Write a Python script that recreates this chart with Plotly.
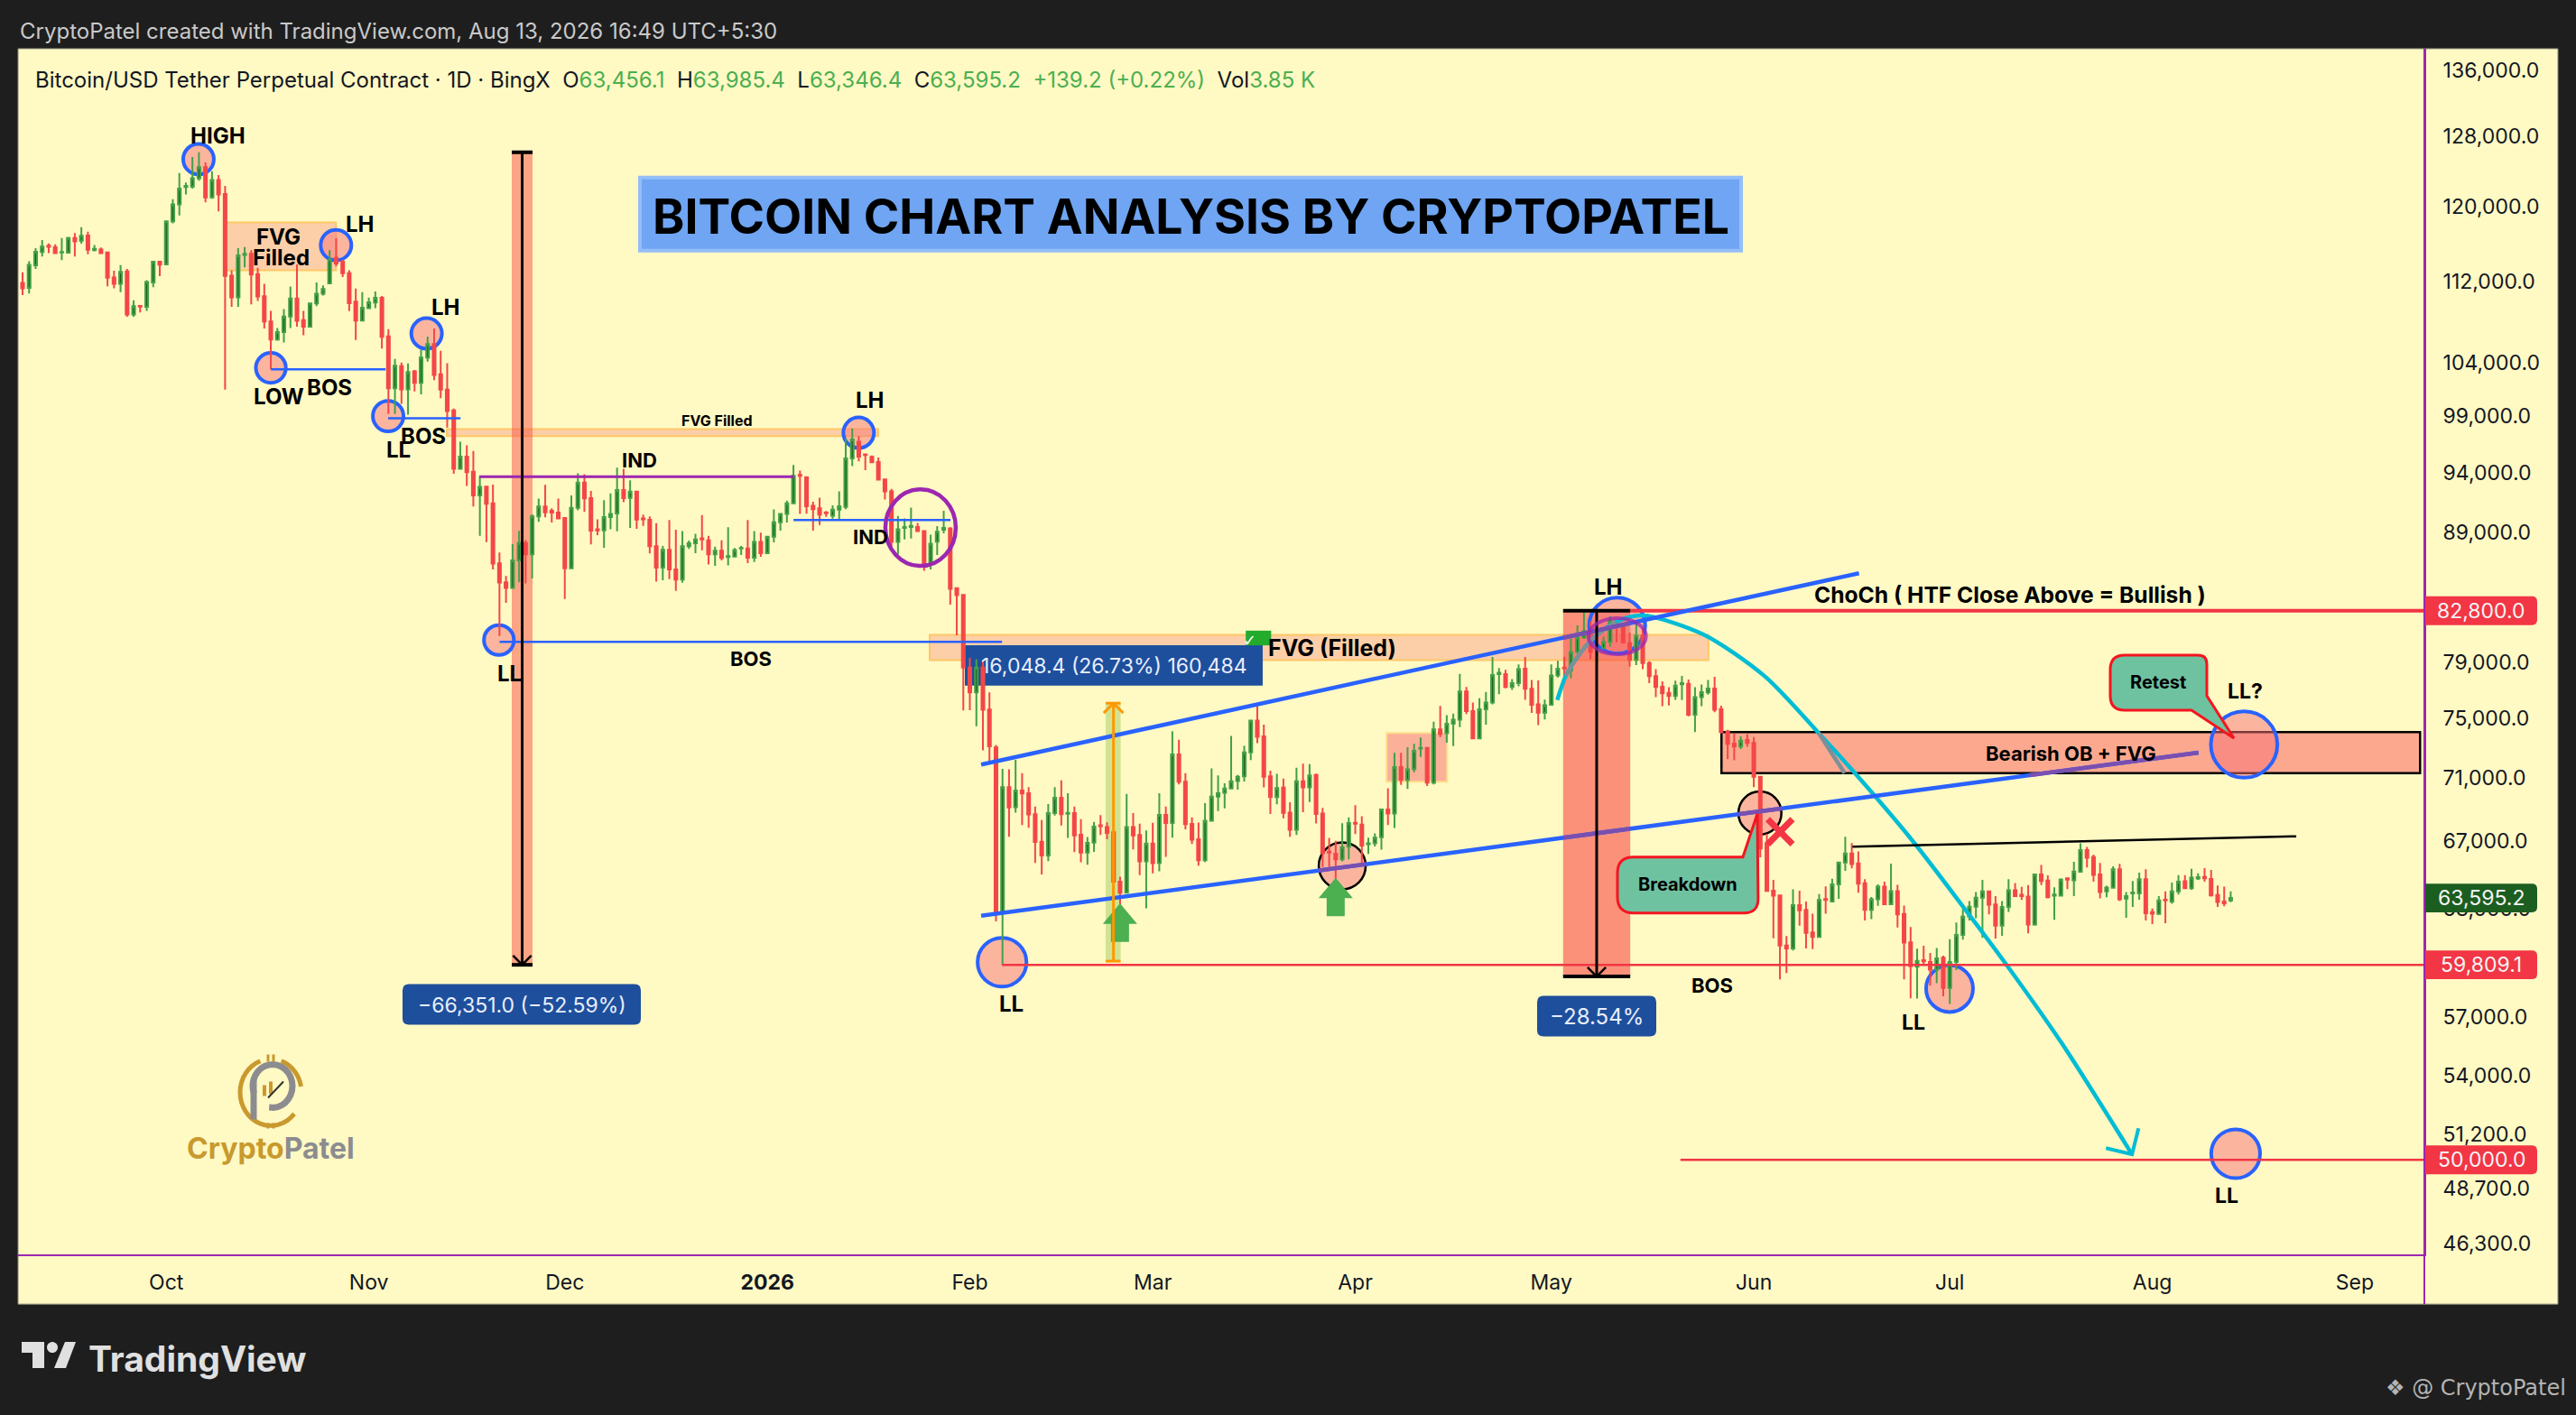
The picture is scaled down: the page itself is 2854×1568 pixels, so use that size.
import math
from datetime import datetime, timedelta

import plotly.graph_objects as go

START = datetime(2025, 9, 9)

OPEN = [111900,111400,113720,115130,115800,115620,115080,115040,116600,116310,
        116880,115320,115390,115070,112460,111800,113080,108700,109560,109470,
        111950,114100,113820,118400,120270,122200,122250,123200,124460,121050,
        123000,121420,112650,110420,114800,114920,112800,110540,108010,106230,
        106950,108490,110300,108130,107480,109810,110790,111860,114500,114100,
        112900,110000,108100,109340,109900,110380,106530,101570,103650,101470,
        103170,102090,104470,105780,102880,101450,99530,94340,95400,94080,
        92050,92800,91390,86490,84990,84560,86710,88120,87200,90290,
        91120,90770,90620,90170,86090,91000,93150,91830,89240,89150,
        90230,90530,92520,91840,92370,90120,90010,87850,86140,87570,
        86000,85200,87860,88100,88490,88330,87200,87490,86990,87030,
        87670,87670,86940,88210,87300,88620,89810,90500,91390,93810,
        93600,91170,90970,90610,90360,90860,91090,95240,96710,95600,
        95380,94920,93420,92400,88200,89350,89420,89420,89080,86530,
        88220,89200,89300,84530,84020,78590,76810,78590,75620,73030,
        62750,70420,69130,70190,70020,68690,66970,66130,68750,69730,
        68710,68750,67400,66310,66920,67990,67880,67550,64550,63900,
        67880,67380,65770,66860,65680,68640,68130,72560,70760,68080,
        67120,65840,68270,69810,70050,70320,70810,71110,72700,74860,
        73770,71110,69770,70380,68790,67710,70790,70400,71200,68720,
        66360,66240,65900,66670,68150,68030,66810,66870,67240,68980,
        68730,71720,70880,71590,72950,73000,70700,74250,73990,74640,
        74920,76880,75510,73640,75630,76110,78120,78120,77200,77470,
        78510,77070,75970,75390,75950,78020,78590,78380,79720,80780,
        81280,79900,80000,80470,82080,81560,80360,79150,80930,78920,
        77970,77220,76780,76560,77400,77420,75250,76490,76820,77090,
        75640,74110,73290,73090,73530,73330,71090,66880,64030,63750,
        60880,60710,63180,62910,61610,61360,63530,63390,64390,65700,
        66250,65650,64460,62900,63520,64260,63230,64000,62670,61060,
        59700,60070,59960,59540,60200,58550,59960,61470,62510,63090,
        63610,63980,63220,62000,63080,64050,63780,63680,62070,64980,
        64620,63730,63730,64760,64640,65150,66460,66030,64980,63980,
        64200,65290,63560,63870,63860,64700,62780,62670,63500,63390,
        63980,64580,64170,64740,64840,64720,63770,63390,63456.1]

HIGH = [113000,114150,115530,116400,116030,115930,116620,116740,117150,117780,
        117300,115860,115600,115130,113150,113740,113350,110120,109590,112170,
        114190,114190,118440,120850,123780,122710,125620,126160,125000,123980,
        123550,122320,113200,115530,115650,115300,113460,111800,109060,107360,
        109230,111520,113820,109060,109810,111950,111650,115300,116580,114300,
        113200,111330,110960,110410,111020,110560,107240,104350,104010,103910,
        103290,105250,106520,107300,105130,103950,99700,96700,96380,95880,
        93700,92850,92980,87350,85490,88030,89100,88360,90470,91780,
        92950,90970,91780,90170,92050,93950,93870,92430,90060,91650,
        92220,94430,94340,93330,92370,90440,90300,89730,87880,90000,
        89190,89090,88320,88860,90400,88700,87830,88330,89400,87720,
        87880,90000,89090,88950,88620,90870,90520,91620,94670,94180,
        93680,91520,91870,90740,91220,92400,97000,97900,97200,95650,
        95500,95310,93420,92600,90330,90130,91030,89750,89080,88800,
        89500,90770,89400,84600,84020,79300,79200,79070,76810,73200,
        71600,71570,72200,71330,70420,69170,68310,69330,70420,70850,
        70020,69170,68370,67260,68200,68630,68170,67550,64850,69980,
        68750,68090,67660,68150,70020,69170,74120,73550,71330,68480,
        68160,69390,71640,71180,70660,73800,71200,73130,74900,75850,
        74580,71490,71280,70970,69440,71680,71950,71920,71300,69080,
        67200,67030,68110,68490,69260,68560,67220,67480,68980,70340,
        72670,72670,73040,73270,73700,73000,74780,75870,75230,75330,
        78130,77200,76100,76400,76850,79350,78560,78420,77760,78810,
        79350,77700,77670,76310,78820,79080,79380,80730,81690,82700,
        82000,80260,80860,82390,82150,81730,81150,81860,81500,79050,
        78470,77600,77180,77650,77990,77730,77180,77370,77700,77930,
        75880,74220,73970,73770,73920,73730,71090,67450,64670,63750,
        61410,64100,64030,63390,62680,63830,64280,64730,65740,67280,
        66880,66380,64710,63650,64400,64550,65630,64370,63160,61920,
        60700,60870,60470,60740,60320,61230,62180,62940,63420,63950,
        64670,63980,63700,63420,64700,64480,64250,64350,65010,65550,
        64930,64220,64760,64800,65750,66870,66650,66180,65680,64320,
        65470,65620,63950,64600,65090,65290,62980,63700,63980,64500,
        64940,64940,65330,65060,65370,65250,64330,64260,63985.4]

LOW = [110660,110820,113350,114650,115010,115010,114270,115010,114650,116000,
       114890,115200,115010,111560,111350,110960,108470,108470,108910,109060,
       111460,112590,113820,118200,119060,121380,122020,122900,120480,120880,
       119490,101450,109470,109470,113510,109720,110060,107300,103350,106120,
       105940,107360,107480,106650,107480,109530,110600,111800,113600,112500,
       109030,106180,108100,109280,109330,105350,99200,99200,100130,99150,
       101290,101000,104080,102340,100650,97970,93900,94340,92850,91120,
       88700,88190,86010,80900,83400,84560,85000,84900,85300,89850,
       90220,89800,90120,83700,86090,90800,90670,88000,88760,87730,
       89230,89070,91480,89340,89270,89520,87280,85050,85150,85240,
       84320,84950,87640,87290,87530,86400,86280,86720,86320,87030,
       87150,86510,86600,87010,87300,88160,89130,89800,91390,90500,
       90520,89130,89580,90250,90100,89990,90900,94570,94970,94210,
       94850,93400,91710,87660,87200,88410,88480,89080,85890,86000,
       87150,88900,83270,80960,75550,75570,74470,72830,71900,62250,
       59809.1,67270,68780,68000,67840,65680,64980,65790,68600,67970,
       67200,66330,65720,65570,66350,67390,67120,63770,62400,63900,
       66500,64950,63000,65050,65180,66050,67220,70590,67730,66830,
       65510,65730,68290,68880,69060,70320,70250,70780,72180,73320,
       70400,68700,69310,68430,67270,67380,68810,69450,68100,65430,
       65430,64730,65770,65900,67440,65550,66230,66680,66480,68010,
       67820,70560,70290,71390,72400,70480,70590,73730,73340,73120,
       74410,75310,73640,73640,74570,75980,76690,77100,77000,77250,
       76300,75380,74540,74930,75950,77880,77920,77820,79620,80690,
       79190,78980,79980,80100,80430,80420,78650,78760,78480,77470,
       76490,75850,75900,76290,76270,75140,74060,75850,76650,75430,
       73980,72250,72170,72930,73070,70420,66020,64010,61280,59020,
       59360,60600,62000,60710,60680,61360,62690,63390,63550,65200,
       65350,63900,62300,62370,63140,63230,63230,61900,59010,58000,
       57990,59800,58680,58810,58110,57700,59520,61210,62300,62420,
       61310,62650,61270,61420,62790,63710,63480,61560,62000,64350,
       63580,62340,63730,64120,63700,65150,65400,64560,63570,63640,
       64200,63410,62450,63080,63490,62290,62090,62670,62140,63260,
       63800,64170,64080,64670,64560,63680,63080,63120,63346.4]

CLOSE = [111350,113780,115150,115700,115680,115010,115130,116620,116250,116850,
         115350,115450,115010,112430,111800,113050,108700,109530,109500,111990,
         114100,113790,118400,120270,122020,122340,123200,124460,121050,123000,
         121380,112620,110420,114770,114920,112770,110510,108010,106230,106950,
         108490,110300,108070,107480,109810,110790,111280,114320,113900,112900,
         109830,108100,109370,109920,110380,106500,101570,103700,101470,103100,
         102090,104470,105780,102820,101440,99480,94340,95400,94030,92050,
         92780,91340,86470,84970,84560,86710,88120,87200,90290,91120,
         90640,90620,90120,86090,91000,93150,91810,89120,89150,90230,
         90510,92520,91830,92370,90030,90060,87850,86140,87570,86000,
         85200,87860,88100,88410,88410,87200,87490,86910,87060,87550,
         87720,86940,88210,87300,88620,89810,90500,91390,93730,93730,
         91150,90900,90440,90550,90860,91140,95240,96900,95400,95530,
         94900,93400,92400,88200,89230,89420,89510,89080,86530,88050,
         89040,89350,84480,84000,78590,76810,78590,75600,73100,62750,
         70420,69110,70190,70000,68670,66960,66130,68750,69730,68690,
         68770,67360,66310,66900,67910,67930,67510,64550,63900,67880,
         67360,65770,66860,65660,68640,68130,72560,70760,68060,67100,
         65840,68270,69810,70020,70320,70800,71090,72700,74860,73750,
         71090,69770,70360,68770,67710,70790,70400,71180,68700,66260,
         66300,65900,66630,68130,68090,66740,66870,67220,68980,68730,
         71720,70880,71570,72800,73000,70700,74250,73950,74640,74920,
         76880,75510,73640,75630,76110,78060,78220,77200,77470,78480,
         77070,75950,75390,75920,78020,78510,78520,79720,80780,81280,
         79740,79960,80470,82040,81560,80420,79150,80930,78920,77970,
         77200,76760,76560,77300,77480,75250,76490,76840,77090,75600,
         74070,73270,73090,73490,73330,71090,66560,64010,63730,60880,
         60710,63180,62880,61590,61360,63480,63480,64390,65700,66250,
         65610,64440,62900,63520,64260,63230,64000,62650,61040,59730,
         60030,60000,59540,60170,58550,59960,61470,62510,63090,63610,
         63980,63200,62000,63080,64050,63710,63710,62070,64980,64600,
         63640,63800,64680,64680,65160,66460,65990,64960,63950,64210,
         65290,63520,63700,63920,64700,62710,62690,63450,63450,63980,
         64560,64170,64800,64820,64760,63750,63370,63280,63595.2]

PRICE_TICKS = [136000, 128000, 120000, 112000, 104000, 99000, 94000, 89000, 79000,
               75000, 71000, 67000, 63000, 57000, 54000, 51200, 48700, 46300]
MONTH_TICKS = ["2025-10-01", "2025-11-01", "2025-12-01", "2026-01-01", "2026-02-01", "2026-03-01",
               "2026-04-01", "2026-05-01", "2026-06-01", "2026-07-01", "2026-08-01", "2026-09-01"]
MONTH_LABELS = ["Oct", "Nov", "Dec", "<b>2026</b>", "Feb", "Mar", "Apr", "May", "Jun", "Jul", "Aug", "Sep"]

# price levels on the tags at the right, and the drawn swing circles (day offset, price, radius in days)
TAG_LEVELS = [82800.0, 63595.2, 59809.1, 50000.0]
SWING_CIRCLES = [(27.0, 125360, 2.35), (38.1, 103500, 2.3), (48.1, 115850, 2.35), (62.0, 106820, 2.35),
                 (56.1, 99010, 2.35), (73.1, 80600, 2.3), (128.3, 97510, 2.35), (150.3, 59950, 3.75),
                 (244.7, 81680, 4.3), (295.7, 58520, 3.6), (340.9, 73220, 5.1), (339.6, 50280, 3.75)]
TOUCH_CIRCLES = [(202.5, 65500, 3.6), (266.6, 68760, 3.3)]

# cyan projection curve
CURVE_DAYS = [235.5, 236.8, 238.5, 240.7, 244.5, 248.6, 257.9, 267.3, 275.6, 284.0, 290.5, 297.9, 304.4, 312.9, 323.7]
CURVE_PRICES = [76280, 77980, 79290, 80600, 81950, 82440, 81020, 77980, 74010, 69960, 66790, 63030, 59830, 55660, 50250]

BG = "#FFF9C4"
DARK = "#1E1E1E"
INK = "#131722"
BLUE = "#2962FF"
RED = "#F23645"
PURPLE = "#9C27B0"
CYAN = "#00BCD4"
ARROW_GREEN = "#4CAF50"
TAG_BLUE = "#1E4F9C"
BUBBLE = "#6FC2A0"
CIRCLE_FILL = "rgba(247,113,120,0.5)"
BLUE_ON_RED = "#7A4FB0"
CYAN_ON_RED = "#7F8F98"
FONT = "Inter"

W, H = 2854, 1568
LEFT, RIGHT, TOP, BOTTOM = 20, 2686, 54, 1392
DAY_PX = 7.238
LOG_PX = 1207.8
# the drawings below were measured at 7.22 px a day
DRAW_SCALE = 7.22 / DAY_PX
Y_HIGH = 136000 * math.exp((78.3 - TOP) / LOG_PX)
Y_LOW = 136000 * math.exp((78.3 - BOTTOM) / LOG_PX)


def day(n):
    return (START + timedelta(days=n)).isoformat()


def dday(n):
    return day(n * DRAW_SCALE)


def px(x):
    return x / W


def py(y):
    return 1 - y / H


def price_y(p):
    return 78.3 + LOG_PX * math.log(136000 / p)


shapes = []
notes = []


def seg(d0, p0, d1, p1, color, width=2, layer="above"):
    shapes.append(dict(type="line", xref="x", yref="y", x0=dday(d0), x1=dday(d1), y0=p0, y1=p1,
                       line=dict(color=color, width=width), layer=layer))


def zone(d0, d1, p0, p1, fill, line=None, width=2):
    shapes.append(dict(type="rect", xref="x", yref="y", x0=dday(d0), x1=dday(d1), y0=p0, y1=p1,
                       fillcolor=fill, line=dict(color=line or fill, width=width if line else 0), layer="below"))


def ring(d, p, r, color=BLUE, width=4, fill=CIRCLE_FILL, squash=1.0, layer="below"):
    k = r * squash * 7.22 / LOG_PX
    shapes.append(dict(type="circle", xref="x", yref="y", x0=dday(d - r), x1=dday(d + r),
                       y0=p * math.exp(-k), y1=p * math.exp(k),
                       fillcolor=fill, line=dict(color=color, width=width), layer=layer))


def paper_path(path, fill=None, line=None, width=0, layer="above"):
    shapes.append(dict(type="path", xref="paper", yref="paper", path=path,
                       fillcolor=fill or "rgba(0,0,0,0)",
                       line=dict(color=line or "rgba(0,0,0,0)", width=width), layer=layer))


def round_poly(points):
    # corners given as (x, y, radius) in page pixels
    out = []
    n = len(points)
    for i, (x, y, r) in enumerate(points):
        if r == 0:
            out.append(("L", x, y))
            continue
        for other, kind in ((points[i - 1], "L"), (points[(i + 1) % n], "Q")):
            dx, dy = other[0] - x, other[1] - y
            dist = math.hypot(dx, dy)
            qx, qy = x + dx / dist * r, y + dy / dist * r
            if kind == "L":
                out.append(("L", qx, qy))
            else:
                out.append(("Q", x, y, qx, qy))
    path = ""
    for j, item in enumerate(out):
        if item[0] == "L":
            path += f"{'M' if j == 0 else 'L'} {px(item[1]):.5f} {py(item[2]):.5f} "
        else:
            path += f"Q {px(item[1]):.5f} {py(item[2]):.5f} {px(item[3]):.5f} {py(item[4]):.5f} "
    return path + "Z"


def box(x0, y0, x1, y1, r):
    return round_poly([(x0, y0, r), (x1, y0, r), (x1, y1, r), (x0, y1, r)])


def arc(cx, cy, rx, ry, a0, a1, n=24):
    pts = []
    for i in range(n + 1):
        a = math.radians(a0 + (a1 - a0) * i / n)
        pts.append((cx + rx * math.cos(a), cy - ry * math.sin(a)))
    return "M " + " L ".join(f"{px(a):.5f} {py(b):.5f}" for a, b in pts)


def note(text, x, y, size=24, color="#000000", bold=True, anchor="center", font=FONT):
    notes.append(dict(text=f"<b>{text}</b>" if bold else text, xref="paper", yref="paper",
                      x=px(x), y=py(y), xanchor=anchor, yanchor="middle", showarrow=False,
                      font=dict(family=font, size=size, color=color)))


# frame
shapes.append(dict(type="rect", xref="paper", yref="paper", x0=px(LEFT), x1=px(2834), y0=py(1447), y1=py(TOP),
                   fillcolor=BG, line=dict(color="#8A8A7A", width=1), layer="below"))

# zones under the candles
zone(31.2, 48.1, 113200, 118300, "#FCCFA8", "#FFC766")
zone(65.1, 131.3, 97200, 97840, "#FCCFA8", "#FFC766")
zone(139.2, 258.7, 79120, 80990, "#FCCFA8", "#FFC766")
zone(209.3, 218.6, 70770, 74010, "#FBB09A", "#FFE08A")
zone(260.7, 367.9, 71320, 74070, "#FBA88F", "#000000", 2.5)
zone(75.07, 78.26, 59809.1, 126160, "rgba(247,82,70,0.5)")
zone(236.4, 246.7, 59169, 82800, "rgba(247,60,60,0.55)")
zone(166.2, 168.5, 60010, 76058, "rgba(139,195,74,0.4)")
zone(144.6, 190.3, 77290, 80210, TAG_BLUE)
zone(187.7, 191.6, 80210, 81300, "#22AB2D")

for d, p, r in SWING_CIRCLES:
    ring(d, p, r)
for d, p, r in TOUCH_CIRCLES:
    ring(d, p, r, color="#000000", width=2.5)

# level lines
seg(246.7, 82800, 368.6, 82800, RED, 4)
seg(150.3, 59809.1, 368.6, 59809.1, RED, 2.5)
seg(254.4, 50000, 368.6, 50000, RED, 2.5)
seg(38.1, 103350, 55.7, 103350, BLUE, 2.5)
seg(56.1, 98820, 67.2, 98820, BLUE, 2.5)
seg(73.2, 80470, 150.3, 80470, BLUE, 2.5)
seg(118.3, 89990, 142.4, 89990, BLUE, 2.5)
seg(70.1, 93640, 118.4, 93640, PURPLE, 3)

# wedge, resistance
UPPER = (147.1, 71890, 281.8, 85700)
LOWER = (147.1, 62570, 333.9, 72680)


def along(line, d):
    d0, p0, d1, p1 = line
    return p0 * math.exp((d - d0) / (d1 - d0) * math.log(p1 / p0))


seg(*UPPER, BLUE, 4.5)
seg(*LOWER, BLUE, 4.5)
seg(280.8, 66670, 348.9, 67300, "#000000", 2.5)

# where the wedge runs under the red drawings it turns purple
for line, d0, d1 in [(UPPER, 236.4, 246.7), (LOWER, 236.4, 246.7), (LOWER, 198.9, 206.1),
                     (LOWER, 263.3, 269.9), (LOWER, 308.0, 333.9)]:
    seg(d0, along(line, d0), d1, along(line, d1), BLUE_ON_RED, 4.5)

# measure tools
for d0, d1, top, bottom, color, width in [(75.07, 78.26, 126160, 59809.1, "#000000", 3),
                                          (236.4, 246.7, 82800, 59169, "#000000", 3)]:
    mid = (d0 + d1) / 2
    seg(mid, top, mid, bottom, color, width)
    seg(d0, top, d1, top, color, width + 1)
    seg(d0, bottom, d1, bottom, color, width + 1)
    seg(mid - 1.4, bottom * 1.0085, mid, bottom, color, 2.5)
    seg(mid + 1.4, bottom * 1.0085, mid, bottom, color, 2.5)
seg(167.4, 76058, 167.4, 60010, "#FF9800", 3)
seg(166.2, 76058, 168.5, 76058, "#FF9800", 3)
seg(166.2, 60010, 168.5, 60010, "#FF9800", 3)
seg(165.9, 76058 * 0.991, 167.4, 76058, "#FF9800", 3)
seg(168.9, 76058 * 0.991, 167.4, 76058, "#FF9800", 3)

# hand drawn purple circles
ring(137.8, 89370, 5.4, color=PURPLE, width=4.5, fill="rgba(0,0,0,0)", squash=1.09, layer="above")
ring(244.7, 80880, 4.43, color="rgba(156,39,176,0.75)", width=4, fill="rgba(0,0,0,0)", squash=0.625, layer="above")

# red cross
seg(267.8, 67590 * 1.0116, 271.6, 67590 / 1.0116, RED, 7)
seg(271.6, 67590 * 1.0116, 267.8, 67590 / 1.0116, RED, 7)

# callouts and value tags
paper_path(box(446, 1092, 710, 1137, 7), TAG_BLUE)
paper_path(box(1703, 1105, 1835, 1150, 7), TAG_BLUE)
paper_path(round_poly([(1792, 951, 18), (1931, 951, 0), (1947, 903, 0), (1948, 1013, 16), (1792, 1013, 18)]),
           BUBBLE, "#F4151F", 3)
paper_path(round_poly([(2338, 727, 16), (2445, 727, 10), (2445, 772, 0), (2475, 819, 0), (2428, 788, 0), (2338, 788, 16)]),
           BUBBLE, "#F4151F", 3)

# title
paper_path(box(709, 197, 1929, 278, 0), "#6FA5F2", "#94BEF8", 4)

# logo of the author
paper_path(arc(300, 1212, 34, 37, 70, 10), None, "#C9992E", 5)
paper_path(arc(300, 1212, 34, 37, 110, 320), None, "#C9992E", 5)
paper_path(arc(302, 1205, 22, 24, 200, -100), None, "#8C8C90", 7)
paper_path(f"M {px(281)} {py(1242)} L {px(281)} {py(1198)}", None, "#8C8C90", 7)
paper_path(f"M {px(297)} {py(1170)} L {px(297)} {py(1178)} M {px(303)} {py(1170)} L {px(303)} {py(1178)}", None, "#C9992E", 3)
paper_path(f"M {px(297)} {py(1246)} L {px(297)} {py(1252)} M {px(303)} {py(1246)} L {px(303)} {py(1252)}", None, "#C9992E", 3)
paper_path(f"M {px(293)} {py(1204)} L {px(293)} {py(1216)} M {px(300)} {py(1200)} L {px(300)} {py(1214)}", None, "#C9992E", 4)
paper_path(f"M {px(297)} {py(1218)} L {px(314)} {py(1200)}", None, "#333333", 2)

# TradingView mark
paper_path(f"M {px(24)} {py(1489)} L {px(49)} {py(1489)} L {px(49)} {py(1518)} L {px(36)} {py(1518)} L {px(36)} {py(1501)} L {px(24)} {py(1501)} Z", "#E0E0E0")
paper_path(arc(58, 1495, 6, 6, 0, 360), "#E0E0E0")
paper_path(f"M {px(72)} {py(1489)} L {px(84)} {py(1489)} L {px(73)} {py(1518)} L {px(60)} {py(1518)} Z", "#E0E0E0")

# tags on the price scale
for level, fill in zip(TAG_LEVELS, [RED, "#1B5E20", RED, RED]):
    yc = price_y(level)
    paper_path(round_poly([(2687, yc - 16, 0), (2811, yc - 16, 6), (2811, yc + 16, 6), (2687, yc + 16, 0)]), fill)
    note(f"{level:,.1f}", 2749, yc, 23, "#F4F4F4", False)

up = '<span style="color:#4CAF50">'
note("CryptoPatel created with TradingView.com, Aug 13, 2026 16:49 UTC+5:30", 20, 35, 24, "#C9C9C9", False, "left")
note(f"Bitcoin/USD Tether Perpetual Contract · 1D · BingX  O{up}63,456.1</span>  H{up}63,985.4</span>  "
     f"L{up}63,346.4</span>  C{up}63,595.2</span>  {up}+139.2 (+0.22%)</span>  Vol{up}3.85 K</span>",
     37, 89, 24, INK, False, "left")
note("BITCOIN CHART ANALYSIS BY CRYPTOPATEL", 1319, 240, 53.5)
note("HIGH", 241, 151)
note("FVG", 308, 263)
note("Filled", 311, 286)
note("LH", 399, 249)
note("LH", 494, 341)
note("LOW", 309, 440)
note("BOS", 365, 430)
note("LL", 441, 499)
note("BOS", 469, 484)
note("FVG Filled", 794, 467, 16)
note("IND", 708, 511, 22)
note("LH", 964, 444)
note("IND", 964, 596, 22)
note("BOS", 832, 731, 22)
note("LL", 564, 747)
note("LL", 1120, 1114)
note("LH", 1782, 651)
note("✓", 1384, 710, 18, "#FFFFFF", True, "center", "DejaVu Sans")
note("FVG (Filled)", 1476, 719, 25)
note("BOS", 1897, 1093, 22)
note("ChoCh ( HTF Close Above = Bullish )", 2227, 660, 24.6)
note("Bearish OB + FVG", 2294, 836, 22)
note("LL?", 2487, 767, 23)
note("LL", 2120, 1134, 23)
note("LL", 2467, 1327, 23)
note("Breakdown", 1870, 981, 20)
note("Retest", 2391, 757, 20)
note("16,048.4 (26.73%) 160,484", 1234, 739, 23, "#E8EEFC", False)
note("−66,351.0 (−52.59%)", 578, 1115, 23, "#E8EEFC", False)
note("−28.54%", 1769, 1128, 24, "#E8EEFC", False)
note('<span style="color:#C9992E">Crypto</span><span style="color:#8C8C90">Patel</span>', 300, 1274, 32)
note("TradingView", 96, 1507, 39, "#E0E0E0", True, "left")
note("❖ @ CryptoPatel", 2845, 1540, 24, "#B4B4B4", False, "right", "DejaVu Sans")

fig = go.Figure()

fig.add_trace(go.Candlestick(
    x=[day(i) for i in range(len(OPEN))],
    open=OPEN, high=HIGH, low=LOW, close=CLOSE,
    whiskerwidth=0,
    increasing=dict(line=dict(color="#43A047", width=2), fillcolor="#1B5E20"),
    decreasing=dict(line=dict(color="#F44747", width=2), fillcolor="#F44747"),
    hoverinfo="skip",
))

fig.add_trace(go.Scatter(
    x=[dday(d) for d in CURVE_DAYS], y=CURVE_PRICES, mode="lines",
    line=dict(color=CYAN, width=4.5, shape="spline", smoothing=0.8), hoverinfo="skip",
))
# the part of the curve that passes under the red box is duller
fig.add_trace(go.Scatter(
    x=[dday(d) for d in CURVE_DAYS[1:5]], y=CURVE_PRICES[1:5], mode="lines",
    line=dict(color=CYAN_ON_RED, width=4.5, shape="spline", smoothing=0.8), hoverinfo="skip",
))
seg(275.6, 74010, 279.6, 71320, CYAN_ON_RED, 4.5)
fig.add_trace(go.Scatter(
    x=[dday(319.7), dday(323.7), dday(324.7)], y=[50540, 50250, 51470], mode="lines",
    line=dict(color=CYAN, width=4), hoverinfo="skip",
))

# green arrows pointing up at the wedge support
for d, tip in [(168.4, 63280), (201.5, 64790)]:
    shoulder = tip * math.exp(-22.7 / LOG_PX)
    foot = tip * math.exp(-42.7 / LOG_PX)
    fig.add_trace(go.Scatter(
        x=[dday(d), dday(d + 2.63), dday(d + 1.385), dday(d + 1.385), dday(d - 1.385), dday(d - 1.385), dday(d - 2.63), dday(d)],
        y=[tip, shoulder, shoulder, foot, foot, shoulder, shoulder, tip],
        mode="lines", line=dict(width=0, color=ARROW_GREEN), fill="toself", fillcolor=ARROW_GREEN, hoverinfo="skip",
    ))

fig.update_layout(
    width=W, height=H,
    autosize=False,
    margin=dict(l=0, r=0, t=0, b=0),
    paper_bgcolor=DARK,
    plot_bgcolor="rgba(0,0,0,0)",
    showlegend=False,
    boxgap=0.4,
    shapes=shapes,
    annotations=notes,
    font=dict(family=FONT, color=INK),
)
fig.update_xaxes(
    domain=[LEFT / W, RIGHT / W],
    type="date",
    range=[day((LEFT - 25) / DAY_PX), day((RIGHT - 25) / DAY_PX)],
    rangeslider_visible=False,
    tickvals=MONTH_TICKS, ticktext=MONTH_LABELS,
    tickfont=dict(family=FONT, size=23, color=INK),
    ticks="outside", ticklen=9, tickcolor="rgba(0,0,0,0)",
    showgrid=False, zeroline=False,
    showline=True, linecolor=PURPLE, linewidth=2,
)
fig.update_yaxes(
    domain=[1 - BOTTOM / H, 1 - TOP / H],
    type="log",
    side="right",
    range=[math.log10(Y_LOW), math.log10(Y_HIGH)],
    tickvals=PRICE_TICKS, ticktext=[f"{p:,.1f}" for p in PRICE_TICKS],
    tickfont=dict(family=FONT, size=23, color=INK),
    ticks="outside", ticklen=14, tickcolor="rgba(0,0,0,0)",
    showgrid=False, zeroline=False,
    showline=True, linecolor=PURPLE, linewidth=2,
)
fig.add_shape(type="line", xref="paper", yref="paper", x0=px(RIGHT), x1=px(RIGHT), y0=py(1447), y1=py(TOP),
              line=dict(color=PURPLE, width=2), layer="above")

fig.write_html(
    "out.html",
    post_script="document.documentElement.style.background='#1E1E1E';document.body.style.margin='0';document.body.style.overflow='hidden';",
    config={"displayModeBar": False},
)
